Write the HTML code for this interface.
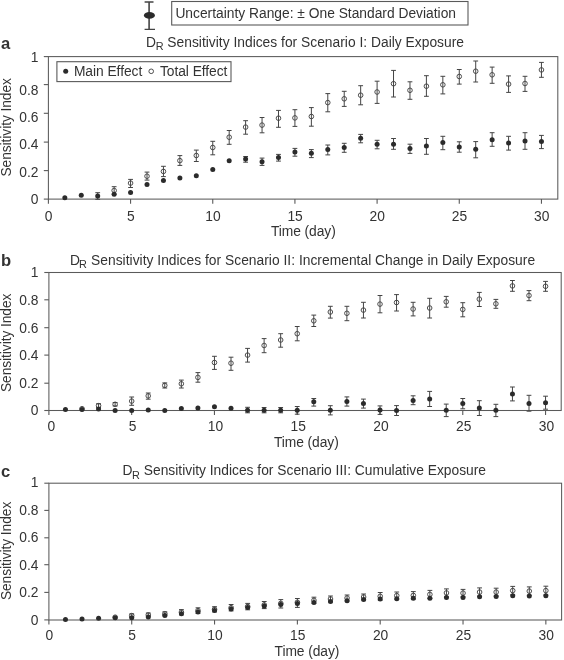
<!DOCTYPE html>
<html><head><meta charset="utf-8"><title>Sensitivity Indices</title>
<style>html,body{margin:0;padding:0;background:#fff}svg{display:block}text{font-family:"Liberation Sans",Arial,Helvetica,sans-serif;fill:#333333}</style></head><body>
<svg width="564" height="660" viewBox="0 0 564 660">
<rect width="564" height="660" fill="#fff"/>
<g>
<rect x="171.7" y="1.5" width="296.3" height="23.5" fill="#fff" stroke="#5a5a5a" stroke-width="1.1"/>
<text x="175.4" y="17.9" font-size="13.8" textLength="280.6" lengthAdjust="spacing">Uncertainty Range: ± One Standard Deviation</text>
<path d="M149.1 2V29.3" fill="none" stroke="#444444" stroke-width="1.6"/>
<path d="M144.6 2H153.5M144.6 29.3H155" fill="none" stroke="#444444" stroke-width="1.3"/>
<ellipse cx="149.4" cy="15.4" rx="5.5" ry="3.4" fill="#2b2b2b"/>
</g>
<g>
<rect x="48.4" y="56.6" width="509.4" height="142.5" fill="none" stroke="#5a5a5a" stroke-width="1.05"/>
<path d="M43.8 199.1H48.4" stroke="#5a5a5a" stroke-width="1.1"/>
<text x="38.5" y="204.1" font-size="13.8" text-anchor="end">0</text>
<path d="M43.8 170.6H48.4" stroke="#5a5a5a" stroke-width="1.1"/>
<text x="38.5" y="176.8" font-size="13.8" text-anchor="end">0.2</text>
<path d="M43.8 142.1H48.4" stroke="#5a5a5a" stroke-width="1.1"/>
<text x="38.5" y="149.3" font-size="13.8" text-anchor="end">0.4</text>
<path d="M43.8 113.3H48.4" stroke="#5a5a5a" stroke-width="1.1"/>
<text x="38.5" y="121.8" font-size="13.8" text-anchor="end">0.6</text>
<path d="M43.8 84.6H48.4" stroke="#5a5a5a" stroke-width="1.1"/>
<text x="38.5" y="94.6" font-size="13.8" text-anchor="end">0.8</text>
<path d="M43.8 56.6H48.4" stroke="#5a5a5a" stroke-width="1.1"/>
<text x="38.5" y="61.6" font-size="13.8" text-anchor="end">1</text>
<path d="M48.4 199.1V203.7" stroke="#5a5a5a" stroke-width="1.1"/>
<text x="48.6" y="220.5" font-size="13.8" text-anchor="middle">0</text>
<path d="M130.57 199.1V203.7" stroke="#5a5a5a" stroke-width="1.1"/>
<text x="130.77" y="220.5" font-size="13.8" text-anchor="middle">5</text>
<path d="M212.75 199.1V203.7" stroke="#5a5a5a" stroke-width="1.1"/>
<text x="212.95" y="220.5" font-size="13.8" text-anchor="middle">10</text>
<path d="M294.92 199.1V203.7" stroke="#5a5a5a" stroke-width="1.1"/>
<text x="295.12" y="220.5" font-size="13.8" text-anchor="middle">15</text>
<path d="M377.1 199.1V203.7" stroke="#5a5a5a" stroke-width="1.1"/>
<text x="377.3" y="220.5" font-size="13.8" text-anchor="middle">20</text>
<path d="M459.27 199.1V203.7" stroke="#5a5a5a" stroke-width="1.1"/>
<text x="459.47" y="220.5" font-size="13.8" text-anchor="middle">25</text>
<path d="M541.45 199.1V203.7" stroke="#5a5a5a" stroke-width="1.1"/>
<text x="541.65" y="220.5" font-size="13.8" text-anchor="middle">30</text>
<text x="303.35" y="235.8" font-size="13.8" text-anchor="middle" textLength="64.8" lengthAdjust="spacing">Time (day)</text>
<text transform="translate(11.3 127.3) rotate(-90)" font-size="13.8" text-anchor="middle" textLength="98.4" lengthAdjust="spacing">Sensitivity Index</text>
<text x="1" y="48.9" font-size="16.6" font-weight="bold" fill="#222">a</text>
<text x="146" y="46.6" font-size="13.8">D</text>
<text x="155.8" y="49.8" font-size="10.9">R</text>
<text x="167.3" y="46.6" font-size="13.8" textLength="296.7" lengthAdjust="spacing">Sensitivity Indices for Scenario I: Daily Exposure</text>
<circle cx="114.14" cy="190.5" r="2.3" fill="#fff" stroke="#444444" stroke-width="0.95"/>
<path d="M114.14 186.7V194.2M111.74 186.7H116.54M111.74 194.2H116.54" fill="none" stroke="#444444" stroke-width="1"/>
<circle cx="130.57" cy="183.1" r="2.3" fill="#fff" stroke="#444444" stroke-width="0.95"/>
<path d="M130.57 179.4V187.5M128.17 179.4H132.97M128.17 187.5H132.97" fill="none" stroke="#444444" stroke-width="1"/>
<circle cx="147.01" cy="176.2" r="2.3" fill="#fff" stroke="#444444" stroke-width="0.95"/>
<path d="M147.01 172.1V180.1M144.61 172.1H149.41M144.61 180.1H149.41" fill="none" stroke="#444444" stroke-width="1"/>
<circle cx="163.44" cy="171.4" r="2.3" fill="#fff" stroke="#444444" stroke-width="0.95"/>
<path d="M163.44 166.3V176.6M161.04 166.3H165.84M161.04 176.6H165.84" fill="none" stroke="#444444" stroke-width="1"/>
<circle cx="179.88" cy="160.6" r="2.3" fill="#fff" stroke="#444444" stroke-width="0.95"/>
<path d="M179.88 155.6V165.4M177.48 155.6H182.28M177.48 165.4H182.28" fill="none" stroke="#444444" stroke-width="1"/>
<circle cx="196.31" cy="155.5" r="2.3" fill="#fff" stroke="#444444" stroke-width="0.95"/>
<path d="M196.31 150.1V161.5M193.91 150.1H198.72M193.91 161.5H198.72" fill="none" stroke="#444444" stroke-width="1"/>
<circle cx="212.75" cy="147.5" r="2.3" fill="#fff" stroke="#444444" stroke-width="0.95"/>
<path d="M212.75 141.3V154.8M210.35 141.3H215.15M210.35 154.8H215.15" fill="none" stroke="#444444" stroke-width="1"/>
<circle cx="229.19" cy="137.2" r="2.3" fill="#fff" stroke="#444444" stroke-width="0.95"/>
<path d="M229.19 130.5V144.3M226.78 130.5H231.59M226.78 144.3H231.59" fill="none" stroke="#444444" stroke-width="1"/>
<circle cx="245.62" cy="127.1" r="2.3" fill="#fff" stroke="#444444" stroke-width="0.95"/>
<path d="M245.62 120.7V134.2M243.22 120.7H248.02M243.22 134.2H248.02" fill="none" stroke="#444444" stroke-width="1"/>
<circle cx="262.05" cy="125.1" r="2.3" fill="#fff" stroke="#444444" stroke-width="0.95"/>
<path d="M262.05 117.5V132.8M259.65 117.5H264.45M259.65 132.8H264.45" fill="none" stroke="#444444" stroke-width="1"/>
<circle cx="278.49" cy="118.2" r="2.3" fill="#fff" stroke="#444444" stroke-width="0.95"/>
<path d="M278.49 110.4V127.3M276.09 110.4H280.89M276.09 127.3H280.89" fill="none" stroke="#444444" stroke-width="1"/>
<circle cx="294.92" cy="117.9" r="2.3" fill="#fff" stroke="#444444" stroke-width="0.95"/>
<path d="M294.92 109.7V126.4M292.52 109.7H297.32M292.52 126.4H297.32" fill="none" stroke="#444444" stroke-width="1"/>
<circle cx="311.36" cy="116.5" r="2.3" fill="#fff" stroke="#444444" stroke-width="0.95"/>
<path d="M311.36 107.6V126.2M308.96 107.6H313.76M308.96 126.2H313.76" fill="none" stroke="#444444" stroke-width="1"/>
<circle cx="327.79" cy="102.6" r="2.3" fill="#fff" stroke="#444444" stroke-width="0.95"/>
<path d="M327.79 93.6V111.8M325.39 93.6H330.19M325.39 111.8H330.19" fill="none" stroke="#444444" stroke-width="1"/>
<circle cx="344.23" cy="98.8" r="2.3" fill="#fff" stroke="#444444" stroke-width="0.95"/>
<path d="M344.23 91.3V106.4M341.83 91.3H346.63M341.83 106.4H346.63" fill="none" stroke="#444444" stroke-width="1"/>
<circle cx="360.66" cy="95.2" r="2.3" fill="#fff" stroke="#444444" stroke-width="0.95"/>
<path d="M360.66 85.7V104.8M358.26 85.7H363.06M358.26 104.8H363.06" fill="none" stroke="#444444" stroke-width="1"/>
<circle cx="377.1" cy="92" r="2.3" fill="#fff" stroke="#444444" stroke-width="0.95"/>
<path d="M377.1 81.2V103.4M374.7 81.2H379.5M374.7 103.4H379.5" fill="none" stroke="#444444" stroke-width="1"/>
<circle cx="393.53" cy="83.7" r="2.3" fill="#fff" stroke="#444444" stroke-width="0.95"/>
<path d="M393.53 70.4V97M391.13 70.4H395.93M391.13 97H395.93" fill="none" stroke="#444444" stroke-width="1"/>
<circle cx="409.97" cy="90.3" r="2.3" fill="#fff" stroke="#444444" stroke-width="0.95"/>
<path d="M409.97 81.8V99.3M407.57 81.8H412.37M407.57 99.3H412.37" fill="none" stroke="#444444" stroke-width="1"/>
<circle cx="426.4" cy="86.2" r="2.3" fill="#fff" stroke="#444444" stroke-width="0.95"/>
<path d="M426.4 75.7V96.3M424 75.7H428.8M424 96.3H428.8" fill="none" stroke="#444444" stroke-width="1"/>
<circle cx="442.84" cy="84.8" r="2.3" fill="#fff" stroke="#444444" stroke-width="0.95"/>
<path d="M442.84 76.3V93.9M440.44 76.3H445.24M440.44 93.9H445.24" fill="none" stroke="#444444" stroke-width="1"/>
<circle cx="459.27" cy="76.5" r="2.3" fill="#fff" stroke="#444444" stroke-width="0.95"/>
<path d="M459.27 69.5V84.1M456.87 69.5H461.67M456.87 84.1H461.67" fill="none" stroke="#444444" stroke-width="1"/>
<circle cx="475.71" cy="71.2" r="2.3" fill="#fff" stroke="#444444" stroke-width="0.95"/>
<path d="M475.71 61V82M473.31 61H478.11M473.31 82H478.11" fill="none" stroke="#444444" stroke-width="1"/>
<circle cx="492.14" cy="74.8" r="2.3" fill="#fff" stroke="#444444" stroke-width="0.95"/>
<path d="M492.14 67.1V83.3M489.74 67.1H494.54M489.74 83.3H494.54" fill="none" stroke="#444444" stroke-width="1"/>
<circle cx="508.58" cy="84.1" r="2.3" fill="#fff" stroke="#444444" stroke-width="0.95"/>
<path d="M508.58 75.9V92.4M506.18 75.9H510.98M506.18 92.4H510.98" fill="none" stroke="#444444" stroke-width="1"/>
<circle cx="525.01" cy="83.5" r="2.3" fill="#fff" stroke="#444444" stroke-width="0.95"/>
<path d="M525.01 76.3V91.4M522.62 76.3H527.41M522.62 91.4H527.41" fill="none" stroke="#444444" stroke-width="1"/>
<circle cx="541.45" cy="69.9" r="2.3" fill="#fff" stroke="#444444" stroke-width="0.95"/>
<path d="M541.45 62.4V77.3M539.05 62.4H543.85M539.05 77.3H543.85" fill="none" stroke="#444444" stroke-width="1"/>
<circle cx="64.83" cy="197.8" r="2.5" fill="#2b2b2b"/>
<circle cx="81.27" cy="195.3" r="2.5" fill="#2b2b2b"/>
<path d="M97.7 192.7V199.3M95.3 192.7H100.1M95.3 199.3H100.1" fill="none" stroke="#444444" stroke-width="1"/>
<circle cx="97.7" cy="196" r="2.5" fill="#2b2b2b"/>
<circle cx="114.14" cy="194.3" r="2.5" fill="#2b2b2b"/>
<circle cx="130.57" cy="192.5" r="2.5" fill="#2b2b2b"/>
<circle cx="147.01" cy="184.4" r="2.5" fill="#2b2b2b"/>
<circle cx="163.44" cy="180.6" r="2.5" fill="#2b2b2b"/>
<circle cx="179.88" cy="178" r="2.5" fill="#2b2b2b"/>
<circle cx="196.31" cy="175.7" r="2.5" fill="#2b2b2b"/>
<circle cx="212.75" cy="169.5" r="2.5" fill="#2b2b2b"/>
<circle cx="229.19" cy="160.8" r="2.5" fill="#2b2b2b"/>
<path d="M245.62 156.5V162.2M243.22 156.5H248.02M243.22 162.2H248.02" fill="none" stroke="#444444" stroke-width="1"/>
<circle cx="245.62" cy="159" r="2.5" fill="#2b2b2b"/>
<path d="M262.05 158.1V165.4M259.65 158.1H264.45M259.65 165.4H264.45" fill="none" stroke="#444444" stroke-width="1"/>
<circle cx="262.05" cy="161.7" r="2.5" fill="#2b2b2b"/>
<path d="M278.49 154.4V161.1M276.09 154.4H280.89M276.09 161.1H280.89" fill="none" stroke="#444444" stroke-width="1"/>
<circle cx="278.49" cy="157.6" r="2.5" fill="#2b2b2b"/>
<path d="M294.92 148.4V156.2M292.52 148.4H297.32M292.52 156.2H297.32" fill="none" stroke="#444444" stroke-width="1"/>
<circle cx="294.92" cy="152.1" r="2.5" fill="#2b2b2b"/>
<path d="M311.36 149.6V157.6M308.96 149.6H313.76M308.96 157.6H313.76" fill="none" stroke="#444444" stroke-width="1"/>
<circle cx="311.36" cy="153.3" r="2.5" fill="#2b2b2b"/>
<path d="M327.79 145V154.9M325.39 145H330.19M325.39 154.9H330.19" fill="none" stroke="#444444" stroke-width="1"/>
<circle cx="327.79" cy="149.6" r="2.5" fill="#2b2b2b"/>
<path d="M344.23 143.3V152.3M341.83 143.3H346.63M341.83 152.3H346.63" fill="none" stroke="#444444" stroke-width="1"/>
<circle cx="344.23" cy="147.5" r="2.5" fill="#2b2b2b"/>
<path d="M360.66 134.4V142.8M358.26 134.4H363.06M358.26 142.8H363.06" fill="none" stroke="#444444" stroke-width="1"/>
<circle cx="360.66" cy="138.3" r="2.5" fill="#2b2b2b"/>
<path d="M377.1 140.3V148.8M374.7 140.3H379.5M374.7 148.8H379.5" fill="none" stroke="#444444" stroke-width="1"/>
<circle cx="377.1" cy="144.3" r="2.5" fill="#2b2b2b"/>
<path d="M393.53 138.5V149.3M391.13 138.5H395.93M391.13 149.3H395.93" fill="none" stroke="#444444" stroke-width="1"/>
<circle cx="393.53" cy="144.2" r="2.5" fill="#2b2b2b"/>
<path d="M409.97 144.2V153.4M407.57 144.2H412.37M407.57 153.4H412.37" fill="none" stroke="#444444" stroke-width="1"/>
<circle cx="409.97" cy="148.6" r="2.5" fill="#2b2b2b"/>
<path d="M426.4 138.5V154.3M424 138.5H428.8M424 154.3H428.8" fill="none" stroke="#444444" stroke-width="1"/>
<circle cx="426.4" cy="145.9" r="2.5" fill="#2b2b2b"/>
<path d="M442.84 136.3V149.7M440.44 136.3H445.24M440.44 149.7H445.24" fill="none" stroke="#444444" stroke-width="1"/>
<circle cx="442.84" cy="142.4" r="2.5" fill="#2b2b2b"/>
<path d="M459.27 141.8V152.2M456.87 141.8H461.67M456.87 152.2H461.67" fill="none" stroke="#444444" stroke-width="1"/>
<circle cx="459.27" cy="146.9" r="2.5" fill="#2b2b2b"/>
<path d="M475.71 141.6V157.8M473.31 141.6H478.11M473.31 157.8H478.11" fill="none" stroke="#444444" stroke-width="1"/>
<circle cx="475.71" cy="149.3" r="2.5" fill="#2b2b2b"/>
<path d="M492.14 132.7V146.3M489.74 132.7H494.54M489.74 146.3H494.54" fill="none" stroke="#444444" stroke-width="1"/>
<circle cx="492.14" cy="139.7" r="2.5" fill="#2b2b2b"/>
<path d="M508.58 136.3V150.1M506.18 136.3H510.98M506.18 150.1H510.98" fill="none" stroke="#444444" stroke-width="1"/>
<circle cx="508.58" cy="142.9" r="2.5" fill="#2b2b2b"/>
<path d="M525.01 132.7V149.3M522.62 132.7H527.41M522.62 149.3H527.41" fill="none" stroke="#444444" stroke-width="1"/>
<circle cx="525.01" cy="141" r="2.5" fill="#2b2b2b"/>
<path d="M541.45 135.4V148.6M539.05 135.4H543.85M539.05 148.6H543.85" fill="none" stroke="#444444" stroke-width="1"/>
<circle cx="541.45" cy="141.6" r="2.5" fill="#2b2b2b"/>
</g>
<g>
<rect x="56.9" y="61.7" width="174.1" height="19.9" fill="#fff" stroke="#5a5a5a" stroke-width="1.1"/>
<circle cx="65.7" cy="71.3" r="2.5" fill="#2b2b2b"/>
<text x="73.9" y="75.8" font-size="13.8" textLength="68.4" lengthAdjust="spacing">Main Effect</text>
<circle cx="151.2" cy="71.3" r="2.3" fill="#fff" stroke="#444444" stroke-width="0.95"/>
<text x="160" y="75.8" font-size="13.8" textLength="67.4" lengthAdjust="spacing">Total Effect</text>
</g>
<g>
<rect x="48.9" y="272.5" width="512.3" height="138" fill="none" stroke="#5a5a5a" stroke-width="1.05"/>
<path d="M44.3 410.5H48.9" stroke="#5a5a5a" stroke-width="1.1"/>
<text x="38.5" y="414.7" font-size="13.8" text-anchor="end">0</text>
<path d="M44.3 383.2H48.9" stroke="#5a5a5a" stroke-width="1.1"/>
<text x="38.5" y="387.5" font-size="13.8" text-anchor="end">0.2</text>
<path d="M44.3 355.1H48.9" stroke="#5a5a5a" stroke-width="1.1"/>
<text x="38.5" y="359.9" font-size="13.8" text-anchor="end">0.4</text>
<path d="M44.3 327.7H48.9" stroke="#5a5a5a" stroke-width="1.1"/>
<text x="38.5" y="332.7" font-size="13.8" text-anchor="end">0.6</text>
<path d="M44.3 299.8H48.9" stroke="#5a5a5a" stroke-width="1.1"/>
<text x="38.5" y="305.3" font-size="13.8" text-anchor="end">0.8</text>
<path d="M44.3 272.5H48.9" stroke="#5a5a5a" stroke-width="1.1"/>
<text x="38.5" y="277.4" font-size="13.8" text-anchor="end">1</text>
<path d="M48.9 410.5V415.1" stroke="#5a5a5a" stroke-width="1.1"/>
<text x="51.3" y="430.9" font-size="13.8" text-anchor="middle">0</text>
<path d="M131.68 410.5V415.1" stroke="#5a5a5a" stroke-width="1.1"/>
<text x="132.68" y="430.9" font-size="13.8" text-anchor="middle">5</text>
<path d="M214.45 410.5V415.1" stroke="#5a5a5a" stroke-width="1.1"/>
<text x="215.45" y="430.9" font-size="13.8" text-anchor="middle">10</text>
<path d="M297.22 410.5V415.1" stroke="#5a5a5a" stroke-width="1.1"/>
<text x="298.22" y="430.9" font-size="13.8" text-anchor="middle">15</text>
<path d="M380 410.5V415.1" stroke="#5a5a5a" stroke-width="1.1"/>
<text x="381" y="430.9" font-size="13.8" text-anchor="middle">20</text>
<path d="M462.77 410.5V415.1" stroke="#5a5a5a" stroke-width="1.1"/>
<text x="463.77" y="430.9" font-size="13.8" text-anchor="middle">25</text>
<path d="M545.55 410.5V415.1" stroke="#5a5a5a" stroke-width="1.1"/>
<text x="546.55" y="430.9" font-size="13.8" text-anchor="middle">30</text>
<text x="306.35" y="446.8" font-size="13.8" text-anchor="middle" textLength="64.8" lengthAdjust="spacing">Time (day)</text>
<text transform="translate(11.3 342.8) rotate(-90)" font-size="13.8" text-anchor="middle" textLength="98.4" lengthAdjust="spacing">Sensitivity Index</text>
<text x="0.9" y="266.1" font-size="16.6" font-weight="bold" fill="#222">b</text>
<text x="70" y="264.5" font-size="13.8">D</text>
<text x="79" y="267.7" font-size="10.9">R</text>
<text x="91.1" y="264.5" font-size="13.8" textLength="444" lengthAdjust="spacing">Sensitivity Indices for Scenario II: Incremental Change in Daily Exposure</text>
<circle cx="82.01" cy="408.7" r="2.3" fill="#fff" stroke="#444444" stroke-width="0.95"/>
<circle cx="98.56" cy="405.7" r="2.3" fill="#fff" stroke="#444444" stroke-width="0.95"/>
<path d="M98.56 403.7V407.6M96.16 403.7H100.97M96.16 407.6H100.97" fill="none" stroke="#444444" stroke-width="1"/>
<circle cx="115.12" cy="404.3" r="2.3" fill="#fff" stroke="#444444" stroke-width="0.95"/>
<path d="M115.12 402.5V406M112.72 402.5H117.52M112.72 406H117.52" fill="none" stroke="#444444" stroke-width="1"/>
<circle cx="131.68" cy="401.1" r="2.3" fill="#fff" stroke="#444444" stroke-width="0.95"/>
<path d="M131.68 397V405.3M129.28 397H134.08M129.28 405.3H134.08" fill="none" stroke="#444444" stroke-width="1"/>
<circle cx="148.23" cy="395.9" r="2.3" fill="#fff" stroke="#444444" stroke-width="0.95"/>
<path d="M148.23 393V399.2M145.83 393H150.63M145.83 399.2H150.63" fill="none" stroke="#444444" stroke-width="1"/>
<circle cx="164.78" cy="385.4" r="2.3" fill="#fff" stroke="#444444" stroke-width="0.95"/>
<path d="M164.78 382.9V388M162.38 382.9H167.19M162.38 388H167.19" fill="none" stroke="#444444" stroke-width="1"/>
<circle cx="181.34" cy="383.8" r="2.3" fill="#fff" stroke="#444444" stroke-width="0.95"/>
<path d="M181.34 380.1V388M178.94 380.1H183.74M178.94 388H183.74" fill="none" stroke="#444444" stroke-width="1"/>
<circle cx="197.9" cy="377.4" r="2.3" fill="#fff" stroke="#444444" stroke-width="0.95"/>
<path d="M197.9 372.6V382.2M195.5 372.6H200.3M195.5 382.2H200.3" fill="none" stroke="#444444" stroke-width="1"/>
<circle cx="214.45" cy="362.5" r="2.3" fill="#fff" stroke="#444444" stroke-width="0.95"/>
<path d="M214.45 356.3V369.4M212.05 356.3H216.85M212.05 369.4H216.85" fill="none" stroke="#444444" stroke-width="1"/>
<circle cx="231" cy="363.2" r="2.3" fill="#fff" stroke="#444444" stroke-width="0.95"/>
<path d="M231 357.2V370.3M228.6 357.2H233.41M228.6 370.3H233.41" fill="none" stroke="#444444" stroke-width="1"/>
<circle cx="247.56" cy="355.1" r="2.3" fill="#fff" stroke="#444444" stroke-width="0.95"/>
<path d="M247.56 348.4V362.1M245.16 348.4H249.96M245.16 362.1H249.96" fill="none" stroke="#444444" stroke-width="1"/>
<circle cx="264.12" cy="345.5" r="2.3" fill="#fff" stroke="#444444" stroke-width="0.95"/>
<path d="M264.12 338.6V352.7M261.72 338.6H266.51M261.72 352.7H266.51" fill="none" stroke="#444444" stroke-width="1"/>
<circle cx="280.67" cy="340" r="2.3" fill="#fff" stroke="#444444" stroke-width="0.95"/>
<path d="M280.67 333.7V347.2M278.27 333.7H283.07M278.27 347.2H283.07" fill="none" stroke="#444444" stroke-width="1"/>
<circle cx="297.22" cy="333.7" r="2.3" fill="#fff" stroke="#444444" stroke-width="0.95"/>
<path d="M297.22 326.5V340.8M294.82 326.5H299.62M294.82 340.8H299.62" fill="none" stroke="#444444" stroke-width="1"/>
<circle cx="313.78" cy="320.8" r="2.3" fill="#fff" stroke="#444444" stroke-width="0.95"/>
<path d="M313.78 315.1V326.5M311.38 315.1H316.18M311.38 326.5H316.18" fill="none" stroke="#444444" stroke-width="1"/>
<circle cx="330.33" cy="312" r="2.3" fill="#fff" stroke="#444444" stroke-width="0.95"/>
<path d="M330.33 306.3V318.1M327.94 306.3H332.73M327.94 318.1H332.73" fill="none" stroke="#444444" stroke-width="1"/>
<circle cx="346.89" cy="313.3" r="2.3" fill="#fff" stroke="#444444" stroke-width="0.95"/>
<path d="M346.89 306.3V320.7M344.49 306.3H349.29M344.49 320.7H349.29" fill="none" stroke="#444444" stroke-width="1"/>
<circle cx="363.44" cy="310.1" r="2.3" fill="#fff" stroke="#444444" stroke-width="0.95"/>
<path d="M363.44 302.3V318M361.05 302.3H365.84M361.05 318H365.84" fill="none" stroke="#444444" stroke-width="1"/>
<circle cx="380" cy="304.1" r="2.3" fill="#fff" stroke="#444444" stroke-width="0.95"/>
<path d="M380 295.5V312.8M377.6 295.5H382.4M377.6 312.8H382.4" fill="none" stroke="#444444" stroke-width="1"/>
<circle cx="396.55" cy="302.5" r="2.3" fill="#fff" stroke="#444444" stroke-width="0.95"/>
<path d="M396.55 294.6V311M394.15 294.6H398.95M394.15 311H398.95" fill="none" stroke="#444444" stroke-width="1"/>
<circle cx="413.11" cy="309" r="2.3" fill="#fff" stroke="#444444" stroke-width="0.95"/>
<path d="M413.11 302.3V315.9M410.71 302.3H415.51M410.71 315.9H415.51" fill="none" stroke="#444444" stroke-width="1"/>
<circle cx="429.66" cy="308" r="2.3" fill="#fff" stroke="#444444" stroke-width="0.95"/>
<path d="M429.66 298.3V318M427.26 298.3H432.06M427.26 318H432.06" fill="none" stroke="#444444" stroke-width="1"/>
<circle cx="446.22" cy="301.8" r="2.3" fill="#fff" stroke="#444444" stroke-width="0.95"/>
<path d="M446.22 296.4V307.2M443.82 296.4H448.62M443.82 307.2H448.62" fill="none" stroke="#444444" stroke-width="1"/>
<circle cx="462.77" cy="309.4" r="2.3" fill="#fff" stroke="#444444" stroke-width="0.95"/>
<path d="M462.77 302.7V316.8M460.38 302.7H465.17M460.38 316.8H465.17" fill="none" stroke="#444444" stroke-width="1"/>
<circle cx="479.33" cy="299.1" r="2.3" fill="#fff" stroke="#444444" stroke-width="0.95"/>
<path d="M479.33 292.4V306.5M476.93 292.4H481.73M476.93 306.5H481.73" fill="none" stroke="#444444" stroke-width="1"/>
<circle cx="495.88" cy="303.8" r="2.3" fill="#fff" stroke="#444444" stroke-width="0.95"/>
<path d="M495.88 299.4V308.3M493.49 299.4H498.28M493.49 308.3H498.28" fill="none" stroke="#444444" stroke-width="1"/>
<circle cx="512.44" cy="285.9" r="2.3" fill="#fff" stroke="#444444" stroke-width="0.95"/>
<path d="M512.44 280.5V291.3M510.04 280.5H514.84M510.04 291.3H514.84" fill="none" stroke="#444444" stroke-width="1"/>
<circle cx="529" cy="295.5" r="2.3" fill="#fff" stroke="#444444" stroke-width="0.95"/>
<path d="M529 290.6V300.7M526.6 290.6H531.39M526.6 300.7H531.39" fill="none" stroke="#444444" stroke-width="1"/>
<circle cx="545.55" cy="286.3" r="2.3" fill="#fff" stroke="#444444" stroke-width="0.95"/>
<path d="M545.55 281.4V291.3M543.15 281.4H547.95M543.15 291.3H547.95" fill="none" stroke="#444444" stroke-width="1"/>
<circle cx="65.45" cy="409.4" r="2.5" fill="#2b2b2b"/>
<circle cx="82.01" cy="409.5" r="2.5" fill="#2b2b2b"/>
<circle cx="98.56" cy="409" r="2.5" fill="#2b2b2b"/>
<circle cx="115.12" cy="410.5" r="2.5" fill="#2b2b2b"/>
<circle cx="131.68" cy="410.5" r="2.5" fill="#2b2b2b"/>
<circle cx="148.23" cy="409.9" r="2.5" fill="#2b2b2b"/>
<circle cx="164.78" cy="410.4" r="2.5" fill="#2b2b2b"/>
<circle cx="181.34" cy="408.6" r="2.5" fill="#2b2b2b"/>
<circle cx="197.9" cy="408.1" r="2.5" fill="#2b2b2b"/>
<circle cx="214.45" cy="406.8" r="2.5" fill="#2b2b2b"/>
<circle cx="231" cy="408.3" r="2.5" fill="#2b2b2b"/>
<path d="M247.56 407.3V412.8M245.16 407.3H249.96M245.16 412.8H249.96" fill="none" stroke="#444444" stroke-width="1"/>
<circle cx="247.56" cy="410.2" r="2.5" fill="#2b2b2b"/>
<path d="M264.12 407.5V412.8M261.72 407.5H266.51M261.72 412.8H266.51" fill="none" stroke="#444444" stroke-width="1"/>
<circle cx="264.12" cy="410.2" r="2.5" fill="#2b2b2b"/>
<path d="M280.67 407.5V412.8M278.27 407.5H283.07M278.27 412.8H283.07" fill="none" stroke="#444444" stroke-width="1"/>
<circle cx="280.67" cy="410.2" r="2.5" fill="#2b2b2b"/>
<path d="M297.22 406.5V414.2M294.82 406.5H299.62M294.82 414.2H299.62" fill="none" stroke="#444444" stroke-width="1"/>
<circle cx="297.22" cy="410.2" r="2.5" fill="#2b2b2b"/>
<path d="M313.78 398.5V406.1M311.38 398.5H316.18M311.38 406.1H316.18" fill="none" stroke="#444444" stroke-width="1"/>
<circle cx="313.78" cy="401.8" r="2.5" fill="#2b2b2b"/>
<path d="M330.33 405.7V414.9M327.94 405.7H332.73M327.94 414.9H332.73" fill="none" stroke="#444444" stroke-width="1"/>
<circle cx="330.33" cy="410.2" r="2.5" fill="#2b2b2b"/>
<path d="M346.89 396.9V406.1M344.49 396.9H349.29M344.49 406.1H349.29" fill="none" stroke="#444444" stroke-width="1"/>
<circle cx="346.89" cy="401.4" r="2.5" fill="#2b2b2b"/>
<path d="M363.44 399.1V408.1M361.05 399.1H365.84M361.05 408.1H365.84" fill="none" stroke="#444444" stroke-width="1"/>
<circle cx="363.44" cy="403.4" r="2.5" fill="#2b2b2b"/>
<path d="M380 405.9V414.4M377.6 405.9H382.4M377.6 414.4H382.4" fill="none" stroke="#444444" stroke-width="1"/>
<circle cx="380" cy="410.1" r="2.5" fill="#2b2b2b"/>
<path d="M396.55 405.6V415.5M394.15 405.6H398.95M394.15 415.5H398.95" fill="none" stroke="#444444" stroke-width="1"/>
<circle cx="396.55" cy="410.6" r="2.5" fill="#2b2b2b"/>
<path d="M413.11 395.8V404.7M410.71 395.8H415.51M410.71 404.7H415.51" fill="none" stroke="#444444" stroke-width="1"/>
<circle cx="413.11" cy="400.5" r="2.5" fill="#2b2b2b"/>
<path d="M429.66 391.4V406.5M427.26 391.4H432.06M427.26 406.5H432.06" fill="none" stroke="#444444" stroke-width="1"/>
<circle cx="429.66" cy="399" r="2.5" fill="#2b2b2b"/>
<path d="M446.22 404.1V416.6M443.82 404.1H448.62M443.82 416.6H448.62" fill="none" stroke="#444444" stroke-width="1"/>
<circle cx="446.22" cy="410.3" r="2.5" fill="#2b2b2b"/>
<path d="M462.77 398.5V408.8M460.38 398.5H465.17M460.38 408.8H465.17" fill="none" stroke="#444444" stroke-width="1"/>
<circle cx="462.77" cy="403.4" r="2.5" fill="#2b2b2b"/>
<path d="M479.33 400.7V415.5M476.93 400.7H481.73M476.93 415.5H481.73" fill="none" stroke="#444444" stroke-width="1"/>
<circle cx="479.33" cy="407.9" r="2.5" fill="#2b2b2b"/>
<path d="M495.88 404.3V416.6M493.49 404.3H498.28M493.49 416.6H498.28" fill="none" stroke="#444444" stroke-width="1"/>
<circle cx="495.88" cy="410.3" r="2.5" fill="#2b2b2b"/>
<path d="M512.44 387V400.9M510.04 387H514.84M510.04 400.9H514.84" fill="none" stroke="#444444" stroke-width="1"/>
<circle cx="512.44" cy="394" r="2.5" fill="#2b2b2b"/>
<path d="M529 395.3V411.2M526.6 395.3H531.39M526.6 411.2H531.39" fill="none" stroke="#444444" stroke-width="1"/>
<circle cx="529" cy="403.4" r="2.5" fill="#2b2b2b"/>
<path d="M545.55 396.2V409.2M543.15 396.2H547.95M543.15 409.2H547.95" fill="none" stroke="#444444" stroke-width="1"/>
<circle cx="545.55" cy="402.7" r="2.5" fill="#2b2b2b"/>
</g>
<g>
<rect x="48.9" y="483.2" width="512.7" height="136.8" fill="none" stroke="#5a5a5a" stroke-width="1.05"/>
<path d="M44.3 619.9H48.9" stroke="#5a5a5a" stroke-width="1.1"/>
<text x="38.5" y="624.5" font-size="13.8" text-anchor="end">0</text>
<path d="M44.3 592.4H48.9" stroke="#5a5a5a" stroke-width="1.1"/>
<text x="38.5" y="597.1" font-size="13.8" text-anchor="end">0.2</text>
<path d="M44.3 564.7H48.9" stroke="#5a5a5a" stroke-width="1.1"/>
<text x="38.5" y="569.8" font-size="13.8" text-anchor="end">0.4</text>
<path d="M44.3 537.8H48.9" stroke="#5a5a5a" stroke-width="1.1"/>
<text x="38.5" y="542.3" font-size="13.8" text-anchor="end">0.6</text>
<path d="M44.3 510.4H48.9" stroke="#5a5a5a" stroke-width="1.1"/>
<text x="38.5" y="515" font-size="13.8" text-anchor="end">0.8</text>
<path d="M44.3 483.2H48.9" stroke="#5a5a5a" stroke-width="1.1"/>
<text x="38.5" y="487.2" font-size="13.8" text-anchor="end">1</text>
<path d="M48.9 620V624.6" stroke="#5a5a5a" stroke-width="1.1"/>
<text x="49.3" y="639.6" font-size="13.8" text-anchor="middle">0</text>
<path d="M131.72 620V624.6" stroke="#5a5a5a" stroke-width="1.1"/>
<text x="132.12" y="639.6" font-size="13.8" text-anchor="middle">5</text>
<path d="M214.55 620V624.6" stroke="#5a5a5a" stroke-width="1.1"/>
<text x="214.95" y="639.6" font-size="13.8" text-anchor="middle">10</text>
<path d="M297.38 620V624.6" stroke="#5a5a5a" stroke-width="1.1"/>
<text x="297.77" y="639.6" font-size="13.8" text-anchor="middle">15</text>
<path d="M380.2 620V624.6" stroke="#5a5a5a" stroke-width="1.1"/>
<text x="380.6" y="639.6" font-size="13.8" text-anchor="middle">20</text>
<path d="M463.03 620V624.6" stroke="#5a5a5a" stroke-width="1.1"/>
<text x="463.43" y="639.6" font-size="13.8" text-anchor="middle">25</text>
<path d="M545.85 620V624.6" stroke="#5a5a5a" stroke-width="1.1"/>
<text x="546.25" y="639.6" font-size="13.8" text-anchor="middle">30</text>
<text x="307" y="655.9" font-size="13.8" text-anchor="middle" textLength="64.8" lengthAdjust="spacing">Time (day)</text>
<text transform="translate(11.3 550.9) rotate(-90)" font-size="13.8" text-anchor="middle" textLength="98.4" lengthAdjust="spacing">Sensitivity Index</text>
<text x="1" y="477.4" font-size="16.6" font-weight="bold" fill="#222">c</text>
<text x="122.4" y="475.4" font-size="13.8">D</text>
<text x="132.1" y="478.6" font-size="10.9">R</text>
<text x="143.8" y="475.4" font-size="13.8" textLength="342.2" lengthAdjust="spacing">Sensitivity Indices for Scenario III: Cumulative Exposure</text>
<circle cx="115.16" cy="617.2" r="2.3" fill="#fff" stroke="#444444" stroke-width="0.95"/>
<circle cx="131.72" cy="615.6" r="2.3" fill="#fff" stroke="#444444" stroke-width="0.95"/>
<path d="M131.72 613.9V617.3M129.32 613.9H134.12M129.32 617.3H134.12" fill="none" stroke="#444444" stroke-width="1"/>
<circle cx="148.29" cy="614.9" r="2.3" fill="#fff" stroke="#444444" stroke-width="0.95"/>
<path d="M148.29 613V616.8M145.89 613H150.69M145.89 616.8H150.69" fill="none" stroke="#444444" stroke-width="1"/>
<circle cx="164.86" cy="613.8" r="2.3" fill="#fff" stroke="#444444" stroke-width="0.95"/>
<path d="M164.86 611.8V615.8M162.46 611.8H167.26M162.46 615.8H167.26" fill="none" stroke="#444444" stroke-width="1"/>
<circle cx="181.42" cy="612.2" r="2.3" fill="#fff" stroke="#444444" stroke-width="0.95"/>
<path d="M181.42 609.6V614.8M179.02 609.6H183.82M179.02 614.8H183.82" fill="none" stroke="#444444" stroke-width="1"/>
<circle cx="197.99" cy="610.6" r="2.3" fill="#fff" stroke="#444444" stroke-width="0.95"/>
<path d="M197.99 607.8V613.4M195.59 607.8H200.39M195.59 613.4H200.39" fill="none" stroke="#444444" stroke-width="1"/>
<circle cx="214.55" cy="609.3" r="2.3" fill="#fff" stroke="#444444" stroke-width="0.95"/>
<path d="M214.55 606.7V611.9M212.15 606.7H216.95M212.15 611.9H216.95" fill="none" stroke="#444444" stroke-width="1"/>
<circle cx="231.12" cy="607.7" r="2.3" fill="#fff" stroke="#444444" stroke-width="0.95"/>
<path d="M231.12 604.5V610.9M228.72 604.5H233.52M228.72 610.9H233.52" fill="none" stroke="#444444" stroke-width="1"/>
<circle cx="247.68" cy="606.5" r="2.3" fill="#fff" stroke="#444444" stroke-width="0.95"/>
<path d="M247.68 603.4V609.8M245.28 603.4H250.08M245.28 609.8H250.08" fill="none" stroke="#444444" stroke-width="1"/>
<circle cx="264.25" cy="604.9" r="2.3" fill="#fff" stroke="#444444" stroke-width="0.95"/>
<path d="M264.25 601.5V608.6M261.85 601.5H266.64M261.85 608.6H266.64" fill="none" stroke="#444444" stroke-width="1"/>
<circle cx="280.81" cy="603.4" r="2.3" fill="#fff" stroke="#444444" stroke-width="0.95"/>
<path d="M280.81 599.6V608M278.41 599.6H283.21M278.41 608H283.21" fill="none" stroke="#444444" stroke-width="1"/>
<circle cx="297.38" cy="602.3" r="2.3" fill="#fff" stroke="#444444" stroke-width="0.95"/>
<path d="M297.38 598.5V607.4M294.98 598.5H299.77M294.98 607.4H299.77" fill="none" stroke="#444444" stroke-width="1"/>
<circle cx="313.94" cy="600.3" r="2.3" fill="#fff" stroke="#444444" stroke-width="0.95"/>
<path d="M313.94 597.2V603.4M311.54 597.2H316.34M311.54 603.4H316.34" fill="none" stroke="#444444" stroke-width="1"/>
<circle cx="330.5" cy="599" r="2.3" fill="#fff" stroke="#444444" stroke-width="0.95"/>
<path d="M330.5 596V602M328.11 596H332.9M328.11 602H332.9" fill="none" stroke="#444444" stroke-width="1"/>
<circle cx="347.07" cy="598" r="2.3" fill="#fff" stroke="#444444" stroke-width="0.95"/>
<path d="M347.07 595V601M344.67 595H349.47M344.67 601H349.47" fill="none" stroke="#444444" stroke-width="1"/>
<circle cx="363.63" cy="597" r="2.3" fill="#fff" stroke="#444444" stroke-width="0.95"/>
<path d="M363.63 594V600M361.24 594H366.03M361.24 600H366.03" fill="none" stroke="#444444" stroke-width="1"/>
<circle cx="380.2" cy="596.3" r="2.3" fill="#fff" stroke="#444444" stroke-width="0.95"/>
<path d="M380.2 592.5V600.1M377.8 592.5H382.6M377.8 600.1H382.6" fill="none" stroke="#444444" stroke-width="1"/>
<circle cx="396.76" cy="595.6" r="2.3" fill="#fff" stroke="#444444" stroke-width="0.95"/>
<path d="M396.76 592V599.2M394.37 592H399.16M394.37 599.2H399.16" fill="none" stroke="#444444" stroke-width="1"/>
<circle cx="413.33" cy="595.4" r="2.3" fill="#fff" stroke="#444444" stroke-width="0.95"/>
<path d="M413.33 591.6V599.2M410.93 591.6H415.73M410.93 599.2H415.73" fill="none" stroke="#444444" stroke-width="1"/>
<circle cx="429.89" cy="594.4" r="2.3" fill="#fff" stroke="#444444" stroke-width="0.95"/>
<path d="M429.89 590.4V598.4M427.5 590.4H432.29M427.5 598.4H432.29" fill="none" stroke="#444444" stroke-width="1"/>
<circle cx="446.46" cy="592.9" r="2.3" fill="#fff" stroke="#444444" stroke-width="0.95"/>
<path d="M446.46 588.9V596.9M444.06 588.9H448.86M444.06 596.9H448.86" fill="none" stroke="#444444" stroke-width="1"/>
<circle cx="463.03" cy="593.1" r="2.3" fill="#fff" stroke="#444444" stroke-width="0.95"/>
<path d="M463.03 589.4V596.8M460.63 589.4H465.43M460.63 596.8H465.43" fill="none" stroke="#444444" stroke-width="1"/>
<circle cx="479.59" cy="592.1" r="2.3" fill="#fff" stroke="#444444" stroke-width="0.95"/>
<path d="M479.59 587.9V596.3M477.19 587.9H481.99M477.19 596.3H481.99" fill="none" stroke="#444444" stroke-width="1"/>
<circle cx="496.16" cy="592.1" r="2.3" fill="#fff" stroke="#444444" stroke-width="0.95"/>
<path d="M496.16 588.2V596M493.76 588.2H498.56M493.76 596H498.56" fill="none" stroke="#444444" stroke-width="1"/>
<circle cx="512.72" cy="590.6" r="2.3" fill="#fff" stroke="#444444" stroke-width="0.95"/>
<path d="M512.72 586.4V594.8M510.32 586.4H515.12M510.32 594.8H515.12" fill="none" stroke="#444444" stroke-width="1"/>
<circle cx="529.29" cy="591.1" r="2.3" fill="#fff" stroke="#444444" stroke-width="0.95"/>
<path d="M529.29 586.9V595.3M526.89 586.9H531.69M526.89 595.3H531.69" fill="none" stroke="#444444" stroke-width="1"/>
<circle cx="545.85" cy="590.6" r="2.3" fill="#fff" stroke="#444444" stroke-width="0.95"/>
<path d="M545.85 586.2V595M543.45 586.2H548.25M543.45 595H548.25" fill="none" stroke="#444444" stroke-width="1"/>
<circle cx="65.47" cy="619.6" r="2.5" fill="#2b2b2b"/>
<circle cx="82.03" cy="618.9" r="2.5" fill="#2b2b2b"/>
<circle cx="98.59" cy="618.3" r="2.5" fill="#2b2b2b"/>
<circle cx="115.16" cy="617.8" r="2.5" fill="#2b2b2b"/>
<circle cx="131.72" cy="617.7" r="2.5" fill="#2b2b2b"/>
<circle cx="148.29" cy="617" r="2.5" fill="#2b2b2b"/>
<circle cx="164.86" cy="615.4" r="2.5" fill="#2b2b2b"/>
<circle cx="181.42" cy="613.8" r="2.5" fill="#2b2b2b"/>
<circle cx="197.99" cy="612" r="2.5" fill="#2b2b2b"/>
<circle cx="214.55" cy="610.5" r="2.5" fill="#2b2b2b"/>
<circle cx="231.12" cy="608.9" r="2.5" fill="#2b2b2b"/>
<circle cx="247.68" cy="607.6" r="2.5" fill="#2b2b2b"/>
<circle cx="264.25" cy="605.9" r="2.5" fill="#2b2b2b"/>
<circle cx="280.81" cy="604.4" r="2.5" fill="#2b2b2b"/>
<circle cx="297.38" cy="603.4" r="2.5" fill="#2b2b2b"/>
<circle cx="313.94" cy="602.6" r="2.5" fill="#2b2b2b"/>
<circle cx="330.5" cy="601.6" r="2.5" fill="#2b2b2b"/>
<circle cx="347.07" cy="600.7" r="2.5" fill="#2b2b2b"/>
<circle cx="363.63" cy="599.6" r="2.5" fill="#2b2b2b"/>
<circle cx="380.2" cy="599" r="2.5" fill="#2b2b2b"/>
<circle cx="396.76" cy="598.7" r="2.5" fill="#2b2b2b"/>
<circle cx="413.33" cy="598.3" r="2.5" fill="#2b2b2b"/>
<circle cx="429.89" cy="598.3" r="2.5" fill="#2b2b2b"/>
<circle cx="446.46" cy="597.6" r="2.5" fill="#2b2b2b"/>
<circle cx="463.03" cy="597.6" r="2.5" fill="#2b2b2b"/>
<circle cx="479.59" cy="596.8" r="2.5" fill="#2b2b2b"/>
<circle cx="496.16" cy="596.6" r="2.5" fill="#2b2b2b"/>
<circle cx="512.72" cy="595.8" r="2.5" fill="#2b2b2b"/>
<circle cx="529.29" cy="596.1" r="2.5" fill="#2b2b2b"/>
<circle cx="545.85" cy="595.8" r="2.5" fill="#2b2b2b"/>
</g>
</svg></body></html>
